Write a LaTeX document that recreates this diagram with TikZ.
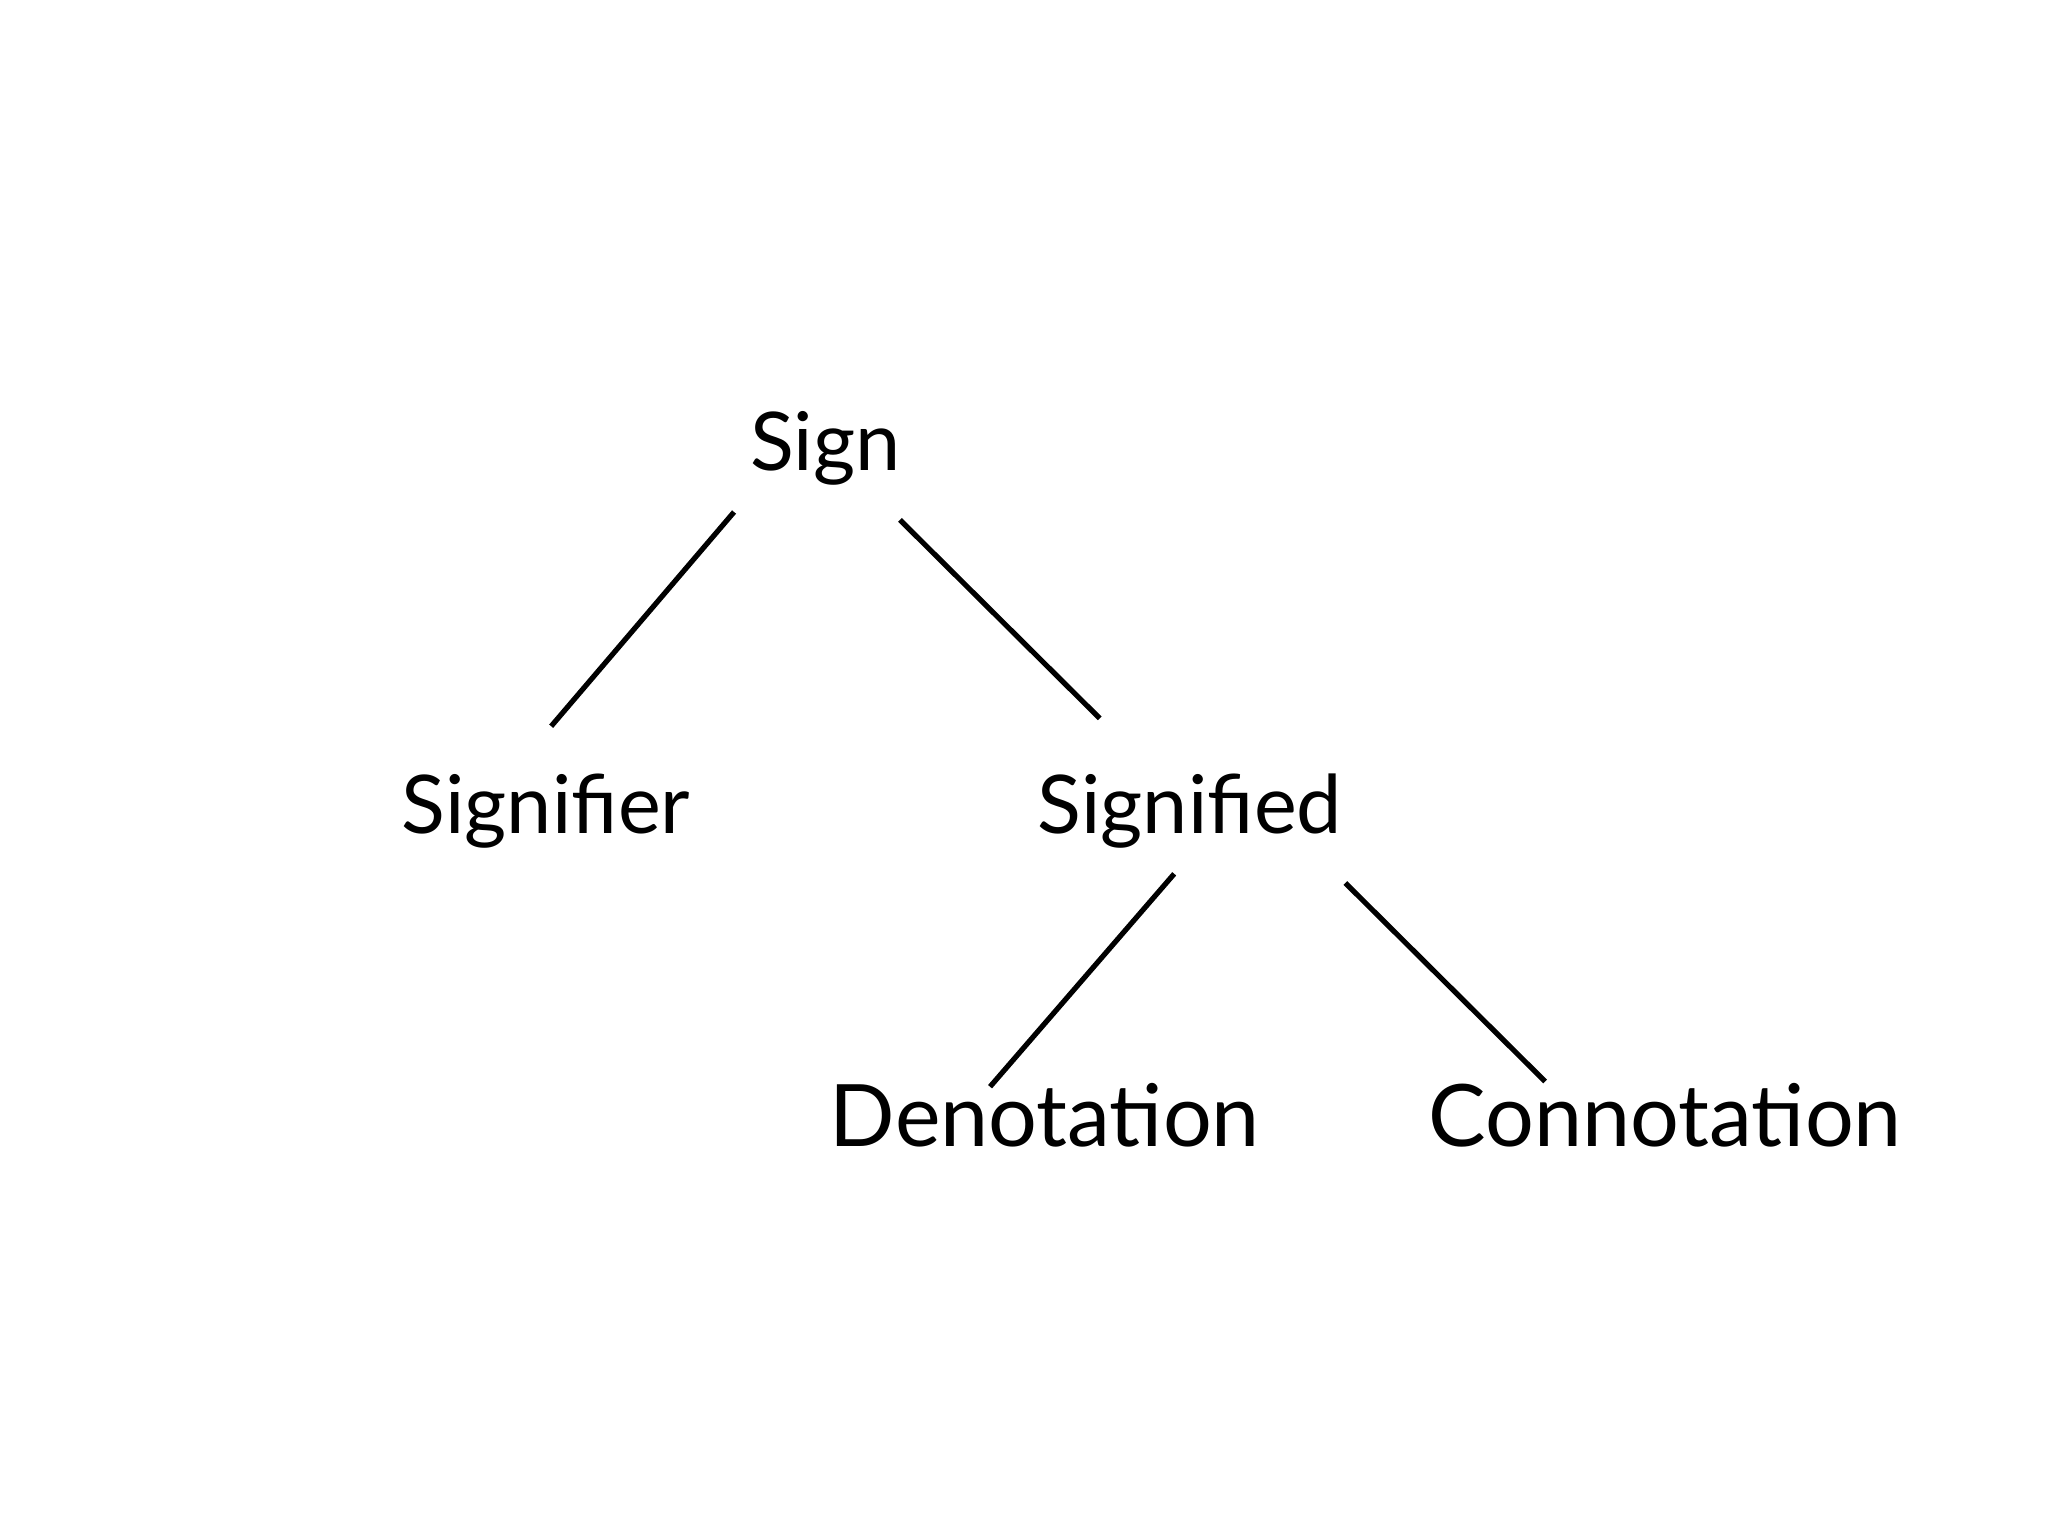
\documentclass[tikz,border=0pt]{standalone}
\usepackage{fontspec}
\setmainfont{Lato}
\begin{document}
\begin{tikzpicture}[x=1pt,y=-1pt,
  lbl/.style={anchor=base,inner sep=0pt,font=\fontsize{62}{62}\selectfont},
  big/.style={lbl,font=\fontsize{66}{66}\selectfont},
  edge/.style={line width=4pt,black}]
\useasboundingbox[fill=white] (0,0) rectangle (1568,1176);
\node[lbl] (sign) at (632,360) {Sign};
\node[lbl] (signifier) at (418,638) {Signifier};
\node[lbl] (signified) at (911,638) {Signified};
\node[big] (deno) at (800,878) {Denotation};
\node[big] (conno) at (1275,878) {Connotation};
\coordinate (a1) at (562,392); \coordinate (a2) at (422,556);
\coordinate (b1) at (689,398); \coordinate (b2) at (842,550);
\coordinate (c1) at (899,669); \coordinate (c2) at (758,832);
\coordinate (d1) at (1030,676); \coordinate (d2) at (1183,828);
\draw[edge] (a1) -- (a2);
\draw[edge] (b1) -- (b2);
\draw[edge] (c1) -- (c2);
\draw[edge] (d1) -- (d2);
\end{tikzpicture}
\end{document}
